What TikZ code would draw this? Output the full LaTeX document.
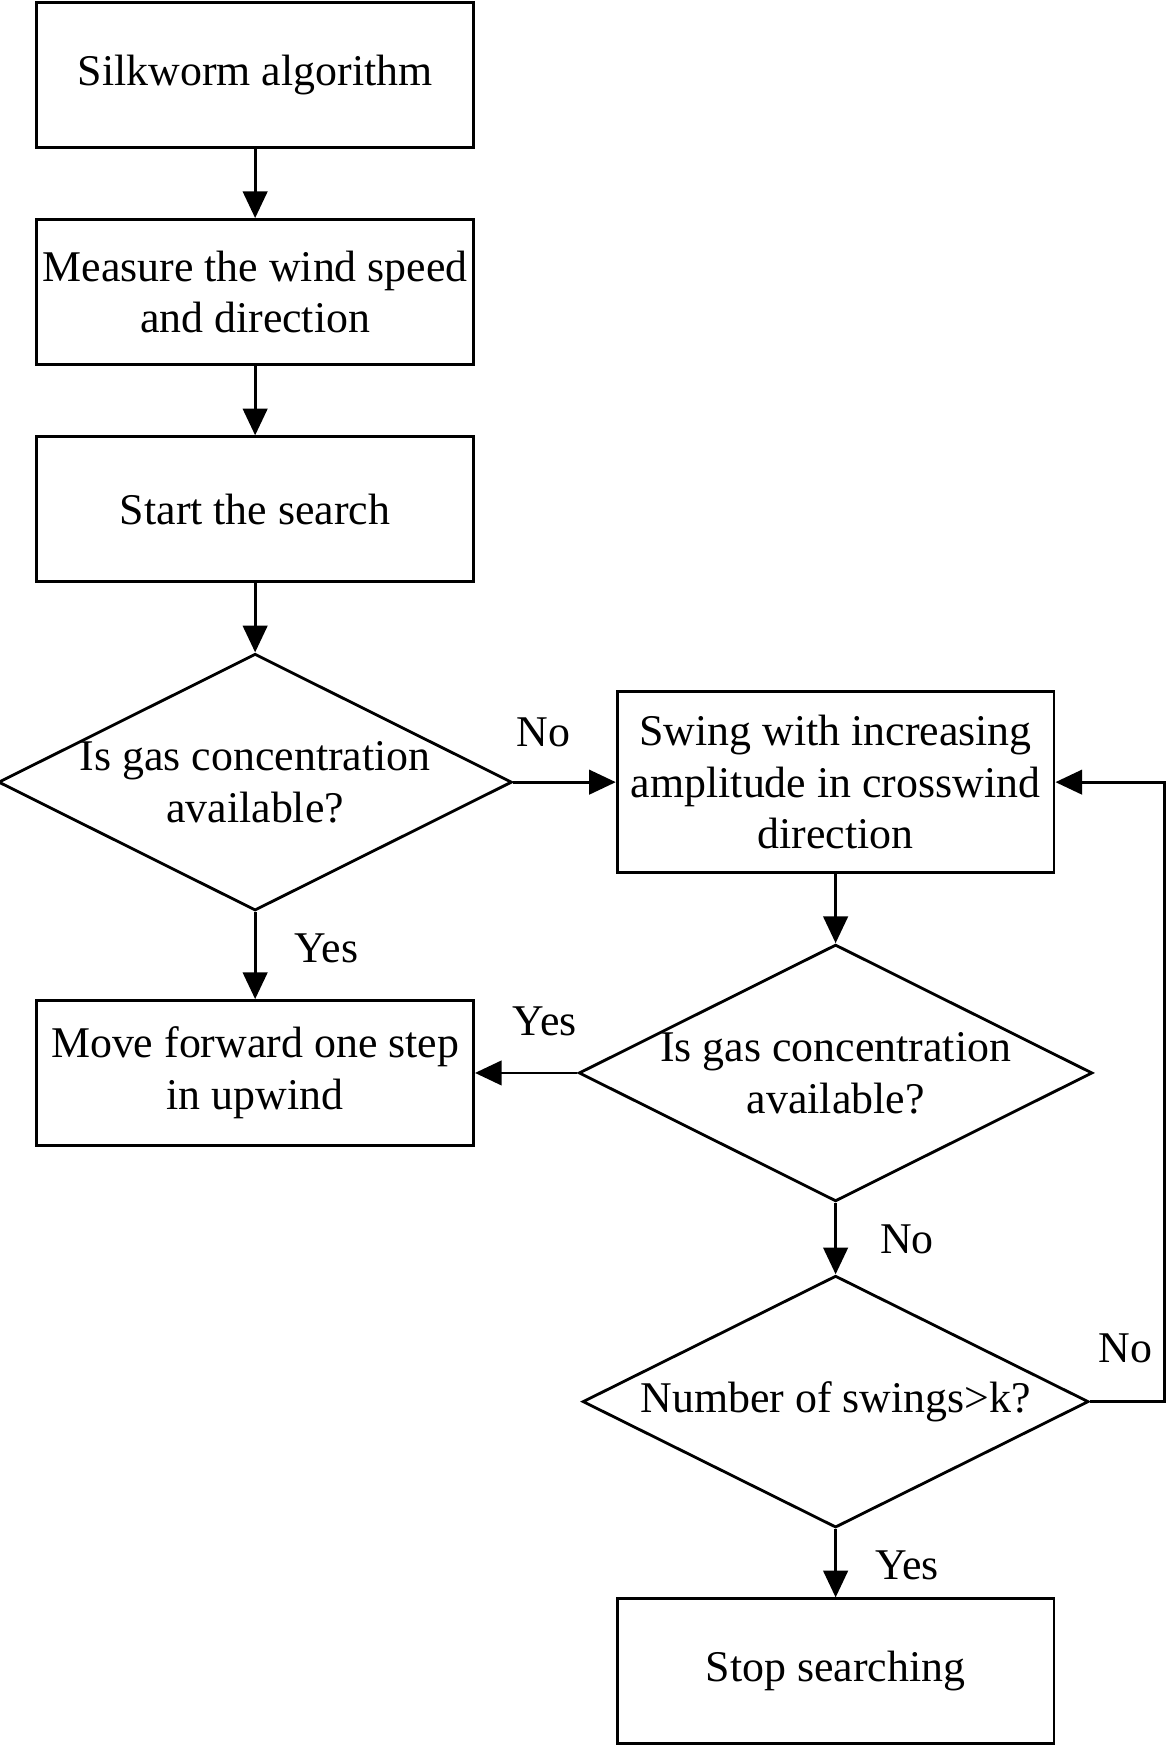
\documentclass[tikz,border=0pt]{standalone}
\usepackage{fontspec}
\setmainfont{Liberation Serif}
\usetikzlibrary{arrows.meta,shapes.geometric}
\tikzset{
  box/.style={draw, line width=1.8pt, minimum width=9.8cm, minimum height=3.25cm,
    align=center, font=\fontsize{28}{33}\selectfont, inner sep=0pt},
  dec/.style={draw, diamond, aspect=2, line width=1.8pt, minimum width=11.35cm, minimum height=5.65cm,
    align=center, font=\fontsize{28}{33}\selectfont, inner sep=0pt},
  lab/.style={font=\fontsize{28}{33}\selectfont},
  arr/.style={line width=1.8pt, -{Triangle[length=0.6cm, width=0.55cm]}}
}
\begin{document}
\begin{tikzpicture}[x=0.025cm, y=-0.025cm]
  \useasboundingbox (0,0) rectangle (1048,1568);
  \node[box] (silk) at (229,67) {Silkworm algorithm};
  \node[box] (wind) at (229,262) {Measure the wind speed\\and direction};
  \node[box] (start) at (229,457) {Start the search};
  \node[dec] (gas1) at (229,702) {Is gas concentration\\available?};
  \node[box] (move) at (229,963) {Move forward one step\\in upwind};
  \node[box, minimum height=4.05cm] (swing) at (750,702) {Swing with increasing\\amplitude in crosswind\\direction};
  \node[dec] (gas2) at (750,963) {Is gas concentration\\available?};
  \node[dec] (num) at (750,1258) {Number of swings>k?};
  \node[box] (stop) at (750,1500) {Stop searching};
  % connectors
  \draw[arr] (silk) -- (wind);
  \draw[arr] (wind) -- (start);
  \draw[arr] (start) -- (gas1);
  \draw[arr] (gas1) -- (move);
  \draw[arr] (gas1) -- (swing);
  \draw[arr] (swing) -- (gas2);
  \draw[arr] (gas2) -- (move);
  \draw[arr] (gas2) -- (num);
  \draw[arr] (num) -- (stop);
  \coordinate (turn) at (1045,1258);
  \draw[arr] (num.east) -- (turn) |- (swing.east);
  % labels
  \node[lab] at (488,657) {No};
  \node[lab] at (293,851) {Yes};
  \node[lab] at (489,917) {Yes};
  \node[lab] at (814,1112) {No};
  \node[lab] at (1010,1210) {No};
  \node[lab] at (814,1405) {Yes};
\end{tikzpicture}
\end{document}
